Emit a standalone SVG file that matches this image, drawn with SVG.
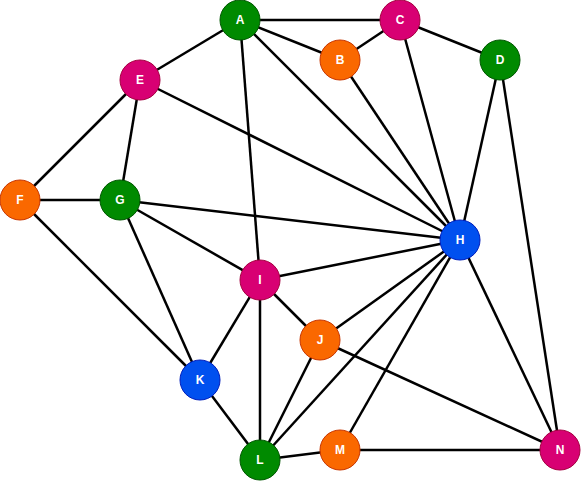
<svg xmlns="http://www.w3.org/2000/svg" width="581" height="482" viewBox="0 0 581 482">
<style>
.e line{stroke:#000;stroke-width:2.5;fill:none}
.n circle{stroke-width:1}
.g circle{fill:#008a00;stroke:#005700}
.o circle{fill:#fa6800;stroke:#c73500}
.m circle{fill:#d80073;stroke:#a50040}
.b circle{fill:#0050ef;stroke:#001dbc}
.n text{fill:#fff;font-family:"Liberation Sans",Arial,sans-serif;font-weight:bold;font-size:12px;text-anchor:middle;dominant-baseline:central}
</style>
<rect width="581" height="482" fill="#fff"/>
<g id="edges" class="e">
<line x1="240" y1="20" x2="400" y2="20"/>
<line x1="240" y1="20" x2="340" y2="60"/>
<line x1="240" y1="20" x2="140" y2="80"/>
<line x1="240" y1="20" x2="460" y2="240"/>
<line x1="240" y1="20" x2="260" y2="280"/>
<line x1="340" y1="60" x2="400" y2="20"/>
<line x1="340" y1="60" x2="460" y2="240"/>
<line x1="400" y1="20" x2="500" y2="60"/>
<line x1="400" y1="20" x2="460" y2="240"/>
<line x1="500" y1="60" x2="460" y2="240"/>
<line x1="500" y1="60" x2="560" y2="450"/>
<line x1="140" y1="80" x2="20" y2="200"/>
<line x1="140" y1="80" x2="120" y2="200"/>
<line x1="140" y1="80" x2="460" y2="240"/>
<line x1="20" y1="200" x2="120" y2="200"/>
<line x1="20" y1="200" x2="200" y2="380"/>
<line x1="120" y1="200" x2="460" y2="240"/>
<line x1="120" y1="200" x2="260" y2="280"/>
<line x1="120" y1="200" x2="200" y2="380"/>
<line x1="460" y1="240" x2="260" y2="280"/>
<line x1="460" y1="240" x2="320" y2="340"/>
<line x1="460" y1="240" x2="260" y2="460"/>
<line x1="460" y1="240" x2="340" y2="450"/>
<line x1="460" y1="240" x2="560" y2="450"/>
<line x1="260" y1="280" x2="200" y2="380"/>
<line x1="260" y1="280" x2="320" y2="340"/>
<line x1="260" y1="280" x2="260" y2="460"/>
<line x1="320" y1="340" x2="260" y2="460"/>
<line x1="320" y1="340" x2="560" y2="450"/>
<line x1="200" y1="380" x2="260" y2="460"/>
<line x1="260" y1="460" x2="340" y2="450"/>
<line x1="340" y1="450" x2="560" y2="450"/>
</g>
<g id="A" class="n g"><circle cx="240" cy="20" r="20"/><text x="240" y="20">A</text></g>
<g id="B" class="n o"><circle cx="340" cy="60" r="20"/><text x="340" y="60">B</text></g>
<g id="C" class="n m"><circle cx="400" cy="20" r="20"/><text x="400" y="20">C</text></g>
<g id="D" class="n g"><circle cx="500" cy="60" r="20"/><text x="500" y="60">D</text></g>
<g id="E" class="n m"><circle cx="140" cy="80" r="20"/><text x="140" y="80">E</text></g>
<g id="F" class="n o"><circle cx="20" cy="200" r="20"/><text x="20" y="200">F</text></g>
<g id="G" class="n g"><circle cx="120" cy="200" r="20"/><text x="120" y="200">G</text></g>
<g id="H" class="n b"><circle cx="460" cy="240" r="20"/><text x="460" y="240">H</text></g>
<g id="I" class="n m"><circle cx="260" cy="280" r="20"/><text x="260" y="280">I</text></g>
<g id="J" class="n o"><circle cx="320" cy="340" r="20"/><text x="320" y="340">J</text></g>
<g id="K" class="n b"><circle cx="200" cy="380" r="20"/><text x="200" y="380">K</text></g>
<g id="L" class="n g"><circle cx="260" cy="460" r="20"/><text x="260" y="460">L</text></g>
<g id="M" class="n o"><circle cx="340" cy="450" r="20"/><text x="340" y="450">M</text></g>
<g id="N" class="n m"><circle cx="560" cy="450" r="20"/><text x="560" y="450">N</text></g>
</svg>
